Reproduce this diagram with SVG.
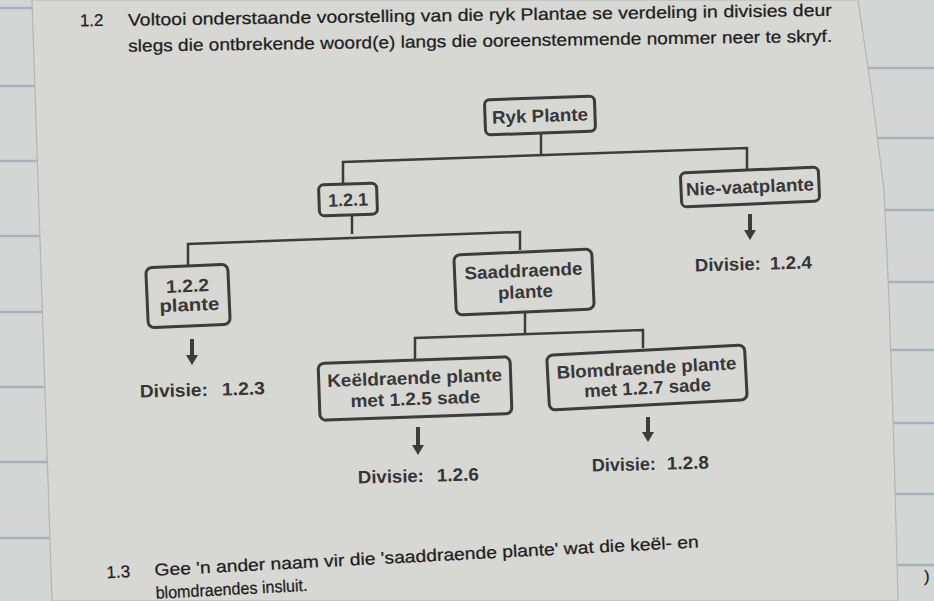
<svg xmlns="http://www.w3.org/2000/svg" width="934" height="601" viewBox="0 0 934 601">
<style>
.box{fill:none;stroke:#3c3c3c;stroke-width:3}
.nt{font-family:"Liberation Sans",Arial,sans-serif;font-weight:bold;font-size:18px;fill:#383838;text-anchor:middle}
.dv{font-family:"Liberation Sans",Arial,sans-serif;font-weight:bold;font-size:18px;fill:#353535}
.t{font-family:"Liberation Sans",Arial,sans-serif;font-size:17px;fill:#1e1e1e;stroke:#1e1e1e;stroke-width:0.25}
.ln{stroke:#3c3c3c;stroke-width:2.5;fill:none}
.ar{stroke:#3c3c3c;stroke-width:4;fill:none}
.rule{stroke:#a6b3b6;stroke-width:2.5}
</style>
<defs>
<marker id="ah" markerUnits="userSpaceOnUse" markerWidth="10" markerHeight="12" viewBox="0 0 10 12" refX="1" refY="6" orient="auto">
<path d="M0,0 L10,6 L0,12 Z" fill="#3c3c3c"/>
</marker>
</defs>
<!-- background: lined paper and page -->
<rect x="0" y="0" width="934" height="601" fill="#d3d6d5"/>
<g>
<line class="rule" x1="0" y1="8" x2="60" y2="8"/>
<line class="rule" x1="0" y1="86" x2="60" y2="86"/>
<line class="rule" x1="0" y1="161" x2="60" y2="161"/>
<line class="rule" x1="0" y1="236" x2="60" y2="236"/>
<line class="rule" x1="0" y1="312" x2="60" y2="312"/>
<line class="rule" x1="0" y1="387" x2="60" y2="387"/>
<line class="rule" x1="0" y1="462" x2="60" y2="462"/>
<line class="rule" x1="0" y1="538" x2="60" y2="538"/>
<line class="rule" x1="850" y1="68" x2="934" y2="68"/>
<line class="rule" x1="850" y1="138" x2="934" y2="138"/>
<line class="rule" x1="850" y1="210" x2="934" y2="210"/>
<line class="rule" x1="850" y1="282" x2="934" y2="282"/>
<line class="rule" x1="850" y1="350" x2="934" y2="350"/>
<line class="rule" x1="850" y1="423" x2="934" y2="423"/>
<line class="rule" x1="850" y1="494" x2="934" y2="494"/>
<line class="rule" x1="850" y1="565" x2="934" y2="565"/>
</g>
<polygon points="32,0 858,0 872,95 884,190 889,300 894,450 898,601 52,601" fill="#d7d7d4" stroke="#b5b5b2" stroke-width="1.2"/>
<text x="924" y="582" class="t" font-size="12" fill="#555" stroke="none">)</text>

<!-- title -->
<g transform="rotate(-0.8 460 30)">
<text class="t" x="80" y="21">1.2</text>
<text class="t" x="128" y="21" textLength="704" lengthAdjust="spacingAndGlyphs">Voltooi onderstaande voorstelling van die ryk Plantae se verdeling in divisies deur</text>
<text class="t" x="128" y="47" textLength="704" lengthAdjust="spacingAndGlyphs">slegs die ontbrekende woord(e) langs die ooreenstemmende nommer neer te skryf.</text>
</g>

<!-- connectors -->
<g id="connectors">
<polyline class="ln" points="541,134 541,155"/>
<polyline class="ln" points="343,184 343,162 747,148 747,169"/>
<polyline class="ln" points="352,215 352,234"/>
<polyline class="ln" points="188,266 188,244 520,232 520,250"/>
<polyline class="ln" points="525,313 525,334"/>
<polyline class="ln" points="415,360 415,338 643,330 643,348"/>
<line class="ar" x1="750" y1="214" x2="750" y2="231" marker-end="url(#ah)"/>
<line class="ar" x1="192" y1="339" x2="192" y2="356" marker-end="url(#ah)"/>
<line class="ar" x1="418" y1="427" x2="418" y2="446" marker-end="url(#ah)"/>
<line class="ar" x1="648" y1="417" x2="648" y2="433" marker-end="url(#ah)"/>
</g>

<!-- nodes -->
<g id="n-ryk" transform="rotate(-2 540 116)">
<rect class="box" x="485" y="98" width="110" height="35" rx="5"/>
<text class="nt" x="540" y="122" textLength="96" lengthAdjust="spacingAndGlyphs">Ryk Plante</text>
</g>
<g id="n-121" transform="rotate(-2 348 199)">
<rect class="box" x="319" y="184" width="58" height="31" rx="5"/>
<text class="nt" x="348" y="206" textLength="40" lengthAdjust="spacingAndGlyphs">1.2.1</text>
</g>
<g id="n-nie" transform="rotate(-2.5 750 187)">
<rect class="box" x="681" y="170" width="138" height="34" rx="5"/>
<text class="nt" x="750" y="193" textLength="128" lengthAdjust="spacingAndGlyphs">Nie-vaatplante</text>
</g>
<g id="n-122" transform="rotate(-2.5 188 296)">
<rect class="box" x="147" y="266" width="82" height="60" rx="6"/>
<text class="nt" x="188" y="292" textLength="43" lengthAdjust="spacingAndGlyphs">1.2.2</text>
<text class="nt" x="189" y="311" textLength="60" lengthAdjust="spacingAndGlyphs">plante</text>
</g>
<g id="n-saad" transform="rotate(-2.5 524 282)">
<rect class="box" x="455" y="252" width="138" height="60" rx="6"/>
<text class="nt" x="524" y="277" textLength="118" lengthAdjust="spacingAndGlyphs">Saaddraende</text>
<text class="nt" x="525" y="298" textLength="55" lengthAdjust="spacingAndGlyphs">plante</text>
</g>
<g id="n-keel" transform="rotate(-2 415 388)">
<rect class="box" x="319" y="360" width="192" height="57" rx="6"/>
<text class="nt" x="415" y="384" textLength="175" lengthAdjust="spacingAndGlyphs">Keëldraende plante</text>
<text class="nt" x="415" y="405" textLength="130" lengthAdjust="spacingAndGlyphs">met 1.2.5 sade</text>
</g>
<g id="n-blom" transform="rotate(-3 647 378)">
<rect class="box" x="548" y="350" width="198" height="55" rx="6"/>
<text class="nt" x="647" y="374" textLength="180" lengthAdjust="spacingAndGlyphs">Blomdraende plante</text>
<text class="nt" x="647" y="394" textLength="127" lengthAdjust="spacingAndGlyphs">met 1.2.7 sade</text>
</g>

<!-- division labels -->
<g id="d-124" transform="rotate(-1.5 750 268)">
<text class="dv" x="695" y="270" textLength="66" lengthAdjust="spacingAndGlyphs">Divisie:</text>
<text class="dv" x="770" y="270" textLength="42" lengthAdjust="spacingAndGlyphs">1.2.4</text>
</g>
<g id="d-123" transform="rotate(-1.5 200 395)">
<text class="dv" x="140" y="396" textLength="68" lengthAdjust="spacingAndGlyphs">Divisie:</text>
<text class="dv" x="222" y="396" textLength="43" lengthAdjust="spacingAndGlyphs">1.2.3</text>
</g>
<g id="d-126" transform="rotate(-1.5 418 480)">
<text class="dv" x="358" y="482" textLength="66" lengthAdjust="spacingAndGlyphs">Divisie:</text>
<text class="dv" x="437" y="482" textLength="42" lengthAdjust="spacingAndGlyphs">1.2.6</text>
</g>
<g id="d-128" transform="rotate(-1.5 650 468)">
<text class="dv" x="592" y="470" textLength="64" lengthAdjust="spacingAndGlyphs">Divisie:</text>
<text class="dv" x="667" y="470" textLength="42" lengthAdjust="spacingAndGlyphs">1.2.8</text>
</g>

<!-- question 1.3 -->
<g transform="rotate(-3 400 575)">
<text class="t" x="107" y="563">1.3</text>
<text class="t" x="155" y="563" textLength="545" lengthAdjust="spacingAndGlyphs">Gee 'n ander naam vir die 'saaddraende plante' wat die keël- en</text>
<text class="t" x="155" y="586" textLength="152" lengthAdjust="spacingAndGlyphs">blomdraendes insluit.</text>
</g>
</svg>
